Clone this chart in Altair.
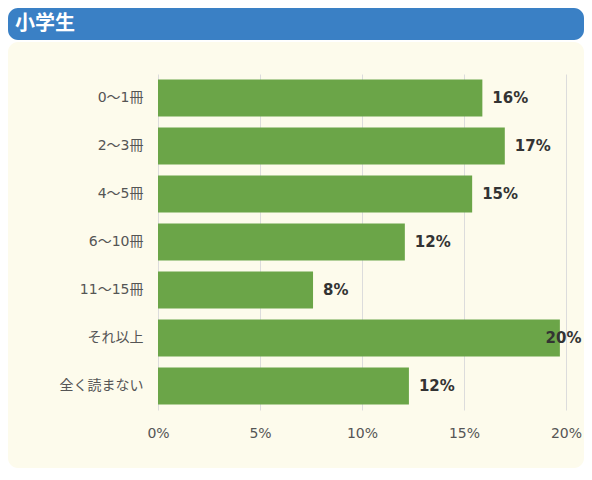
import altair as alt
import pandas as pd

categories = ["0〜1冊", "2〜3冊", "4〜5冊", "6〜10冊", "11〜15冊", "それ以上", "全く読まない"]
values = [15.9, 17.0, 15.4, 12.1, 7.6, 19.7, 12.3]
x_ticks = [0, 5, 10, 15, 20]
title_text = "小学生"

df = pd.DataFrame({"category": categories, "value": values})
one = pd.DataFrame({"k": [0]})

FONT = "DejaVu Sans, Noto Sans CJK JP, sans-serif"
W, H = 408, 336
L, T = -150, -66          # card left/top relative to plot origin
R, B = 426, 394           # card right/bottom relative to plot origin

CREAM = "#fdfbec"
BLUE = "#3a80c5"
GREEN = "#6ba548"

x_scale = alt.Scale(domain=[0, 20], nice=False)
x_axis = alt.Axis(values=x_ticks, labelExpr="datum.value + '%'", title=None,
                  domain=False, ticks=False, grid=True, gridColor="#dcdcdc",
                  labelFlush=False, labelPadding=16, labelFontSize=14,
                  labelColor="#555", labelFont=FONT)
y_enc = alt.Y("category:N", sort=categories,
              scale=alt.Scale(paddingInner=0.23, paddingOuter=0.115),
              axis=alt.Axis(title=None, domain=False, ticks=False, grid=False,
                            labelPadding=15, labelFontSize=14, labelColor="#555",
                            labelFont=FONT))


def rect(x, x2, y, y2, color, r=0):
    return alt.Chart(one).mark_rect(color=color, cornerRadius=r).encode(
        x=alt.value(x), x2=alt.value(x2), y=alt.value(y), y2=alt.value(y2))


white_top = rect(L, R, T, -20, "white")
blue_head = rect(L, R, T, -34, BLUE, 10)
cream_top = rect(L, R, -32, -10, CREAM, 10)
white_bot = rect(L, R, B - 16, B, "white")
cream_bot = rect(L, R, B - 26, B, CREAM, 10)

header = alt.Chart(one).mark_text(
    text=title_text, color="white", fontSize=20, fontWeight="bold",
    font="Noto Sans CJK JP", align="left", baseline="middle"
).encode(x=alt.value(-143), y=alt.value(-50))

bars = alt.Chart(df).mark_bar(color=GREEN).encode(
    x=alt.X("value:Q", scale=x_scale, axis=x_axis),
    y=y_enc,
)

labels = alt.Chart(df).transform_calculate(
    lx="min(datum.value + 0.49, 19.0)",
    txt="round(datum.value) + '%'",
).mark_text(
    align="left", baseline="middle", fontSize=15, fontWeight="bold",
    color="#333", font=FONT
).encode(
    x=alt.X("lx:Q", scale=x_scale, axis=x_axis),
    y=y_enc,
    text="txt:N",
)

chart = alt.layer(
    white_top, blue_head, header, cream_top, white_bot, cream_bot, bars, labels
).properties(
    width=W, height=H, background=CREAM, padding=0
).configure_view(strokeWidth=0)

chart.save("out.html", embed_options={"renderer": "svg", "actions": False})
